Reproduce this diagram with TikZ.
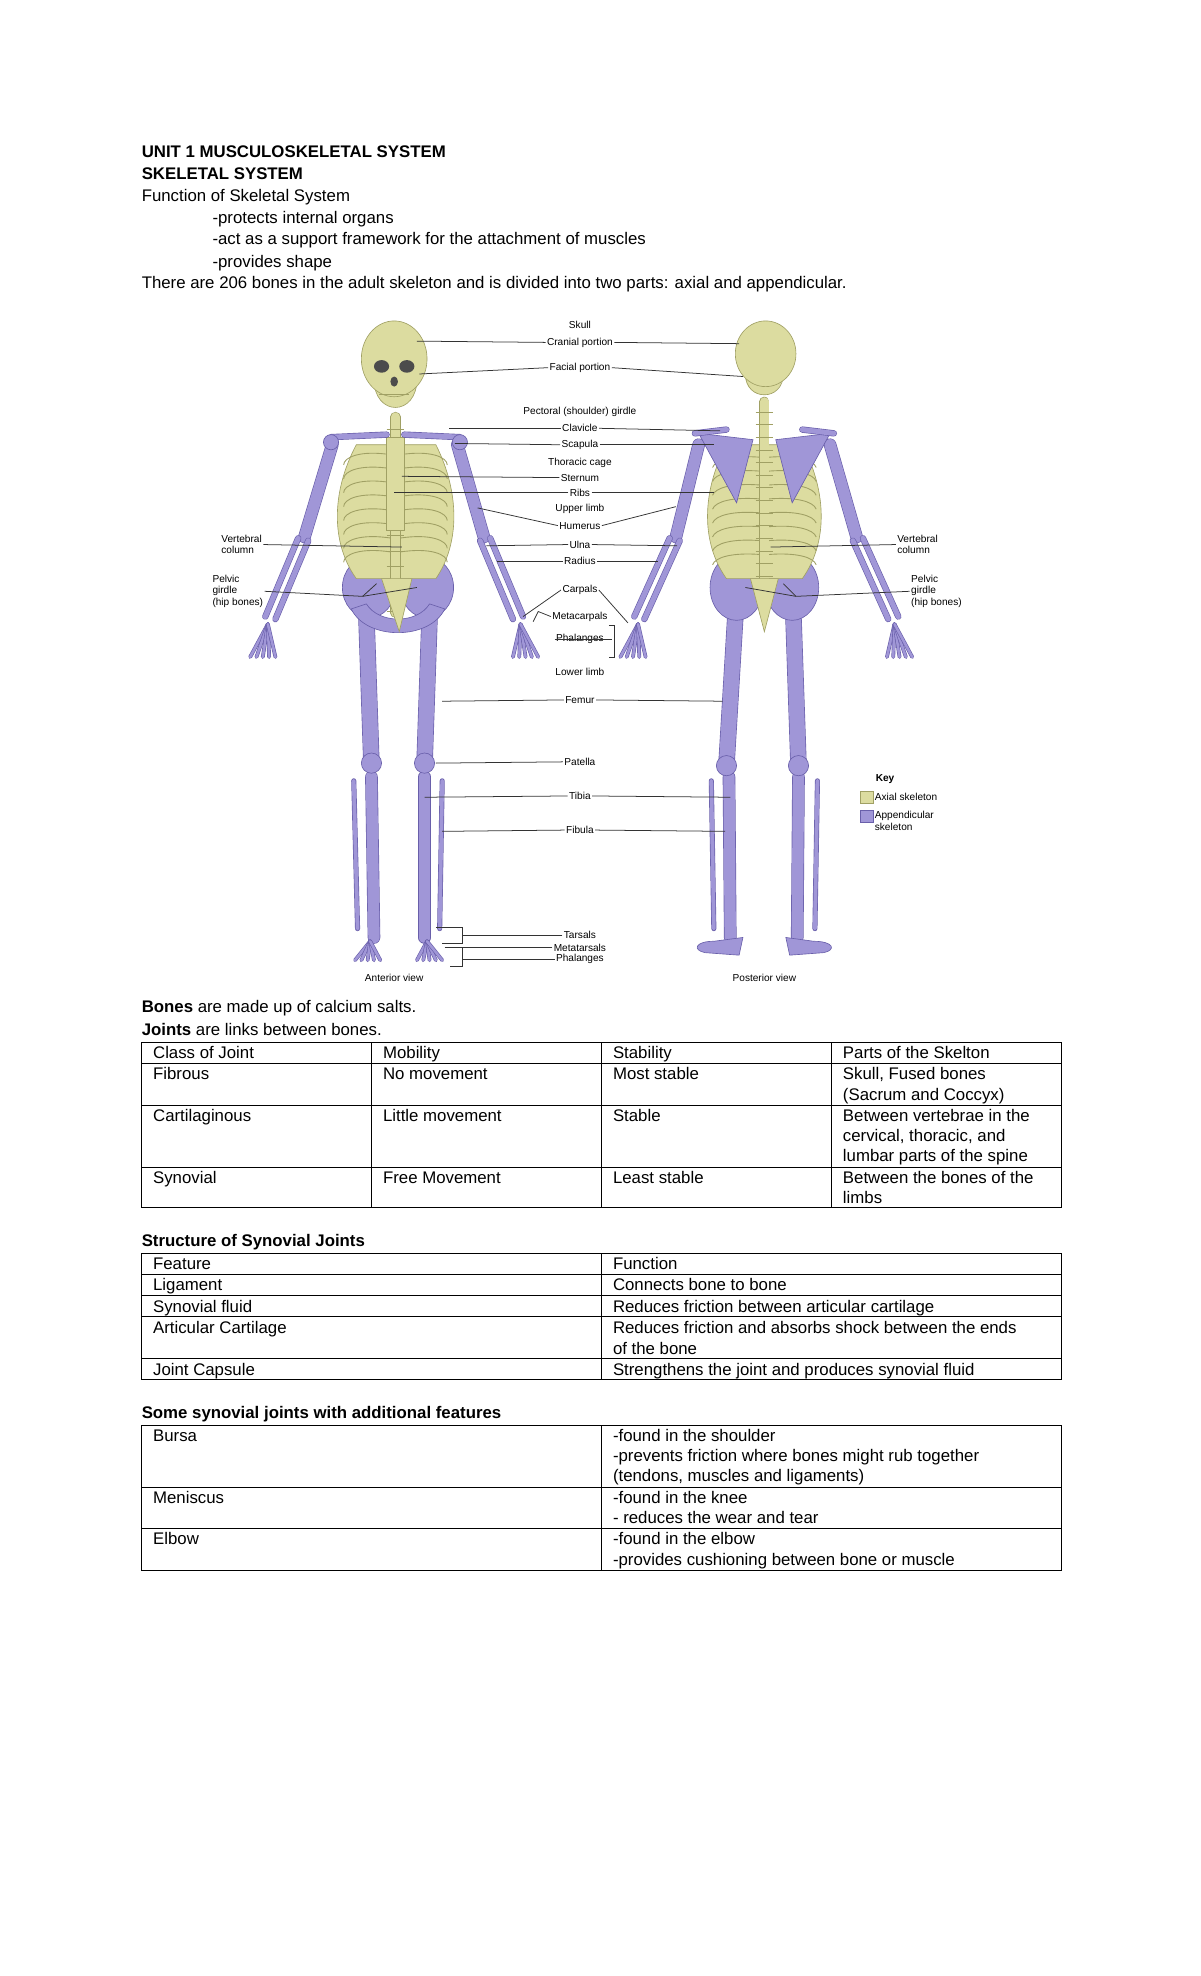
\documentclass[tikz,border=0pt]{standalone}
\usepackage{fontspec}
\setmainfont{Liberation Sans}
\begin{document}
\begin{tikzpicture}[x=1pt,y=-1pt,
  txt/.style={anchor=base west,inner sep=0pt,yshift=-4.7pt,font=\fontsize{13.3}{15}\selectfont},
  lbl/.style={inner sep=1pt,font=\fontsize{8}{9}\selectfont,align=center},
  lead/.style={line width=0.6pt,black!80},
  tab/.style={line width=0.8pt},
  bone/.style={draw=appd,double=appl,double distance=#1,line cap=round,line width=0.5pt},
  bone/.default=6pt,
  abone/.style={draw=axd,double=axl,double distance=#1,line cap=round,line width=0.5pt},
  abone/.default=5pt,
  appf/.style={fill=appl,draw=appd,line width=0.5pt},
  axf/.style={fill=axl,draw=axd,line width=0.5pt}]
\definecolor{appl}{RGB}{160,150,215}
\definecolor{appd}{RGB}{105,95,170}
\definecolor{axl}{RGB}{220,220,160}
\definecolor{axd}{RGB}{160,160,100}
\useasboundingbox (0,0) rectangle (950,1564);
\fill[white] (0,0) rectangle (950,1564);
% ---- header text
\node[txt,font=\fontsize{13.3}{15}\selectfont\bfseries] (t1) at (112,120) {UNIT 1 MUSCULOSKELETAL SYSTEM};
\node[txt,font=\fontsize{13.3}{15}\selectfont\bfseries] (t2) at (112,137) {SKELETAL SYSTEM};
\node[txt] (t3) at (112,155) {Function of Skeletal System};
\node[txt] (t4) at (168,172) {-protects internal organs};
\node[txt] (t5) at (168,189) {-act as a support framework for the attachment of muscles};
\node[txt] (t6) at (168,207) {-provides shape};
\node[txt] (t7) at (112,224) {There are 206 bones in the adult skeleton and is divided into two parts: axial and appendicular.};
% ================= ANTERIOR SKELETON
% legs
\draw[bone=3pt] (280,618) -- (283,735);
\draw[bone=3pt] (350,618) -- (348,735);
\draw[bone=9pt] (294,615) -- (296,742);
\draw[bone=9pt] (336,615) -- (336,742);
\draw[bone=12pt] (290,488) -- (294,605);
\draw[bone=12pt] (340,488) -- (336,605);
\draw[appf] (294,604) circle (8); \draw[appf] (336,604) circle (8);
\foreach \dx in {-12,-7,-2,3,8}{\draw[bone=2pt] (293,745) -- (293+\dx,760);}
\foreach \dx in {-8,-3,2,7,12}{\draw[bone=2pt] (338,745) -- (338+\dx,760);}
% arms
\draw[bone=9pt] (263,352) -- (241,425);
\draw[bone=9pt] (362,352) -- (383,425);
\draw[bone=4pt] (244,428) -- (218,490); \draw[bone=4pt] (236,426) -- (210,488);
\draw[bone=4pt] (380,428) -- (406,490); \draw[bone=4pt] (388,426) -- (414,488);
\foreach \dx in {-14,-9,-4,1,6}{\draw[bone=2pt] (212,494) -- (212+\dx,520);}
\foreach \dx in {-6,-1,4,9,14}{\draw[bone=2pt] (412,494) -- (412+\dx,520);}
% pelvis
\draw[appf] (292,465) ellipse (21 and 24);
\draw[appf] (338,465) ellipse (21 and 24);
\draw[appf] (278,482) .. controls (290,507) and (340,507) .. (352,482) -- (340,478) .. controls (330,494) and (300,494) .. (290,478) -- cycle;
% spine and ribcage
\draw[axf] (282,352) .. controls (262,390) and (262,430) .. (282,458) -- (345,458) .. controls (364,430) and (364,390) .. (345,352) -- cycle;
\foreach \y in {360,371,382,393,404,415,426,437}{
  \draw[axd,line width=0.7pt] (310,\y) .. controls (285,\y-4) and (272,\y+2) .. (272,\y+8);
  \draw[axd,line width=0.7pt] (316,\y) .. controls (341,\y-4) and (354,\y+2) .. (354,\y+8);}
\draw[abone=7pt] (313,330) -- (313,485);
\foreach \y in {340,352,...,484}{\draw[axd] (306,\y) -- (320,\y);}
\draw[axf] (306,346) rectangle (320,420);
\draw[axf] (302,458) -- (326,458) -- (316,500) -- cycle;
% clavicles
\draw[bone=4pt] (262,346) -- (306,344);
\draw[bone=4pt] (320,344) -- (364,346);
\draw[appf] (262,350) circle (6); \draw[appf] (364,350) circle (6);
% skull
\draw[axf] (296,300) .. controls (296,330) and (330,330) .. (330,300) -- cycle;
\draw[axf] (312,284) ellipse (26 and 30);
\fill[black!70] (302,290) ellipse (6 and 5); \fill[black!70] (322,290) ellipse (6 and 5);
\fill[black!70] (312,302) ellipse (3 and 4);
\draw[axd] (300,312) -- (324,312);
% ================= POSTERIOR SKELETON
\draw[bone=3pt] (563,618) -- (565,735);
\draw[bone=3pt] (647,618) -- (645,735);
\draw[bone=9pt] (577,615) -- (578,742);
\draw[bone=9pt] (632,615) -- (631,742);
\draw[bone=12pt] (582,488) -- (575,605);
\draw[bone=12pt] (628,488) -- (632,605);
\draw[appf] (575,606) circle (8); \draw[appf] (632,606) circle (8);
\draw[appf] (565,745) .. controls (550,745) and (548,752) .. (558,754) -- (585,756) -- (588,742) -- cycle;
\draw[appf] (644,745) .. controls (660,745) and (662,752) .. (652,754) -- (625,756) -- (622,742) -- cycle;
\draw[bone=9pt] (553,352) -- (535,425);
\draw[bone=9pt] (657,352) -- (678,425);
\draw[bone=4pt] (538,428) -- (510,490); \draw[bone=4pt] (530,426) -- (502,488);
\draw[bone=4pt] (675,428) -- (703,490); \draw[bone=4pt] (683,426) -- (711,488);
\foreach \dx in {-14,-9,-4,1,6}{\draw[bone=2pt] (505,494) -- (505+\dx,520);}
\foreach \dx in {-6,-1,4,9,14}{\draw[bone=2pt] (708,494) -- (708+\dx,520);}
\draw[appf] (583,465) ellipse (21 and 26);
\draw[appf] (627,465) ellipse (21 and 26);
\draw[axf] (575,352) .. controls (555,390) and (555,430) .. (575,458) -- (635,458) .. controls (655,430) and (655,390) .. (635,352) -- cycle;
\foreach \y in {362,373,384,395,406,417,428,439}{
  \draw[axd,line width=0.7pt] (603,\y) .. controls (580,\y-2) and (566,\y+2) .. (564,\y+8);
  \draw[axd,line width=0.7pt] (607,\y) .. controls (630,\y-2) and (644,\y+2) .. (646,\y+8);}
\draw[abone=7pt] (605,318) -- (605,485);
\foreach \y in {326,336,...,484}{\draw[axd] (598,\y) -- (612,\y);}
\draw[axf] (594,458) -- (616,458) -- (605,500) -- cycle;
\draw[appf] (553,343) -- (596,348) -- (583,398) -- cycle;
\draw[appf] (657,343) -- (614,348) -- (627,398) -- cycle;
\draw[bone=4pt] (550,343) -- (575,340);
\draw[bone=4pt] (660,343) -- (635,340);
\draw[axf] (590,296) .. controls (590,318) and (620,318) .. (620,296) -- cycle;
\draw[axf] (606,280) ellipse (24 and 26);
% ================= LABELS
\node[lbl] (skull) at (459,257) {Skull};
\node[lbl] (cran) at (459,271) {Cranial portion};
\node[lbl] (fac) at (459,291) {Facial portion};
\node[lbl] (pect) at (459,326) {Pectoral (shoulder) girdle};
\node[lbl] (clav) at (459,339) {Clavicle};
\node[lbl] (scap) at (459,352) {Scapula};
\node[lbl] (thor) at (459,366) {Thoracic cage};
\node[lbl] (ster) at (459,378) {Sternum};
\node[lbl] (ribs) at (459,390) {Ribs};
\node[lbl] (upl) at (459,403) {Upper limb};
\node[lbl] (hum) at (459,416) {Humerus};
\node[lbl] (ulna) at (459,431) {Ulna};
\node[lbl] (rad) at (459,444) {Radius};
\node[lbl] (carp) at (459,467) {Carpals};
\node[lbl] (meta) at (459,488) {Metacarpals};
\node[lbl] (phal) at (459,506) {Phalanges};
\node[lbl] (lowl) at (459,532) {Lower limb};
\node[lbl] (fem) at (459,554) {Femur};
\node[lbl] (pat) at (459,603) {Patella};
\node[lbl] (tib) at (459,630) {Tibia};
\node[lbl] (fib) at (459,657) {Fibula};
\node[lbl] (tars) at (459,740) {Tarsals};
\node[lbl] (mtar) at (459,750) {Metatarsals};
\node[lbl] (phl2) at (459,759) {Phalanges};
\node[lbl] (antv) at (312,774) {Anterior view};
\node[lbl] (posv) at (605,774) {Posterior view};
\node[lbl,anchor=west,align=left] (vcl) at (174,431) {Vertebral\\column};
\node[lbl,anchor=west,align=left] (vcr) at (709,431) {Vertebral\\column};
\node[lbl,anchor=west,align=left] (pgl) at (167,468) {Pelvic\\girdle\\(hip bones)};
\node[lbl,anchor=west,align=left] (pgr) at (720,468) {Pelvic\\girdle\\(hip bones)};
\node[lbl,anchor=west,align=left,font=\fontsize{8}{9}\selectfont\bfseries] (key) at (692,617) {Key};
\node[axf,minimum size=10pt,inner sep=0pt] (kax) at (686,631) {};
\node[appf,minimum size=10pt,inner sep=0pt] (kap) at (686,646) {};
\node[lbl,anchor=west] at (kax.east) {Axial skeleton};
\node[lbl,anchor=north west,align=left] at ([yshift=5pt]kap.east) {Appendicular\\skeleton};
% leaders
\draw[lead] (cran.west) -- (330,270); \draw[lead] (cran.east) -- (585,272);
\draw[lead] (fac.west) -- (332,296); \draw[lead] (fac.east) -- (588,298);
\draw[lead] (clav.west) -- (355,339); \draw[lead] (clav.east) -- (570,341);
\draw[lead] (scap.west) -- (360,351); \draw[lead] (scap.east) -- (565,352);
\draw[lead] (ster.west) -- (318,377);
\draw[lead] (ribs.west) -- (312,390); \draw[lead] (ribs.east) -- (565,390);
\draw[lead] (hum.west) -- (378,402); \draw[lead] (hum.east) -- (535,401);
\draw[lead] (ulna.west) -- (385,432); \draw[lead] (ulna.east) -- (536,432);
\draw[lead] (rad.west) -- (393,444); \draw[lead] (rad.east) -- (521,444);
\draw[lead] (carp.west) -- (414,488); \draw[lead] (carp.east) -- (497,493);
\draw[lead] (meta.west) -- (426,484) -- (422,492);
\draw[lead] (phal.west) -- (484,506);
\draw[lead] (482,495) -- (486,495) -- (486,520) -- (482,520);
\draw[lead] (fem.west) -- (350,555); \draw[lead] (fem.east) -- (572,555);
\draw[lead] (pat.west) -- (345,604);
\draw[lead] (tib.west) -- (336,631); \draw[lead] (tib.east) -- (578,631);
\draw[lead] (fib.west) -- (350,658); \draw[lead] (fib.east) -- (574,658);
\draw[lead] (tars.west) -- (366,740); \draw[lead] (mtar.west) -- (366,750); \draw[lead] (phl2.west) -- (366,759);
\draw[lead] (345,734) -- (366,734) -- (366,747) -- (350,747);
\draw[lead] (352,750) -- (366,750) -- (366,765) -- (356,765);
\draw[lead] (vcl.east) -- (318,433);
\draw[lead] (vcr.west) -- (610,433);
\draw[lead] (pgl.east) -- (287,472) -- (298,462); \draw[lead] (287,472) -- (330,465);
\draw[lead] (pgr.west) -- (630,472) -- (620,462); \draw[lead] (630,472) -- (590,465);
% ================= LOWER TEXT
\node[txt] (b1) at (112,797) {\textbf{Bones} are made up of calcium salts.};
\node[txt] (b2) at (112,815) {\textbf{Joints} are links between bones.};
% table 1
\draw[tab] (112,825) rectangle (840,956);
\foreach \y in {842,875,924}{\draw[tab] (112,\y) -- (840,\y);}
\foreach \x in {294,476,658}{\draw[tab] (\x,825) -- (\x,956);}
\node[txt] at (121,833) {Class of Joint}; \node[txt] at (303,833) {Mobility};
\node[txt] at (485,833) {Stability}; \node[txt] at (667,833) {Parts of the Skelton};
\node[txt] at (121,850) {Fibrous}; \node[txt] at (303,850) {No movement};
\node[txt] at (485,850) {Most stable}; \node[txt] at (667,850) {Skull, Fused bones};
\node[txt] at (667,866) {(Sacrum and Coccyx)};
\node[txt] at (121,883) {Cartilaginous}; \node[txt] at (303,883) {Little movement};
\node[txt] at (485,883) {Stable}; \node[txt] at (667,883) {Between vertebrae in the};
\node[txt] at (667,899) {cervical, thoracic, and}; \node[txt] at (667,915) {lumbar parts of the spine};
\node[txt] at (121,932) {Synovial}; \node[txt] at (303,932) {Free Movement};
\node[txt] at (485,932) {Least stable}; \node[txt] at (667,932) {Between the bones of the};
\node[txt] at (667,948) {limbs};
% table 2
\node[txt,font=\fontsize{13.3}{15}\selectfont\bfseries] (s2) at (112,982) {Structure of Synovial Joints};
\draw[tab] (112,992) rectangle (840,1092);
\foreach \y in {1009,1025,1042,1075}{\draw[tab] (112,\y) -- (840,\y);}
\draw[tab] (476,992) -- (476,1092);
\node[txt] at (121,1000) {Feature}; \node[txt] at (485,1000) {Function};
\node[txt] at (121,1017) {Ligament}; \node[txt] at (485,1017) {Connects bone to bone};
\node[txt] at (121,1034) {Synovial fluid}; \node[txt] at (485,1034) {Reduces friction between articular cartilage};
\node[txt] at (121,1051) {Articular Cartilage}; \node[txt] at (485,1051) {Reduces friction and absorbs shock between the ends};
\node[txt] at (485,1067) {of the bone};
\node[txt] at (121,1084) {Joint Capsule}; \node[txt] at (485,1084) {Strengthens the joint and produces synovial fluid};
% table 3
\node[txt,font=\fontsize{13.3}{15}\selectfont\bfseries] (s3) at (112,1118) {Some synovial joints with additional features};
\draw[tab] (112,1128) rectangle (840,1243);
\foreach \y in {1177,1210}{\draw[tab] (112,\y) -- (840,\y);}
\draw[tab] (476,1128) -- (476,1243);
\node[txt] at (121,1136) {Bursa}; \node[txt] at (485,1136) {-found in the shoulder};
\node[txt] at (485,1152) {-prevents friction where bones might rub together};
\node[txt] at (485,1168) {(tendons, muscles and ligaments)};
\node[txt] at (121,1185) {Meniscus}; \node[txt] at (485,1185) {-found in the knee};
\node[txt] at (485,1201) {- reduces the wear and tear};
\node[txt] at (121,1218) {Elbow}; \node[txt] at (485,1218) {-found in the elbow};
\node[txt] at (485,1234) {-provides cushioning between bone or muscle};
\end{tikzpicture}
\end{document}
